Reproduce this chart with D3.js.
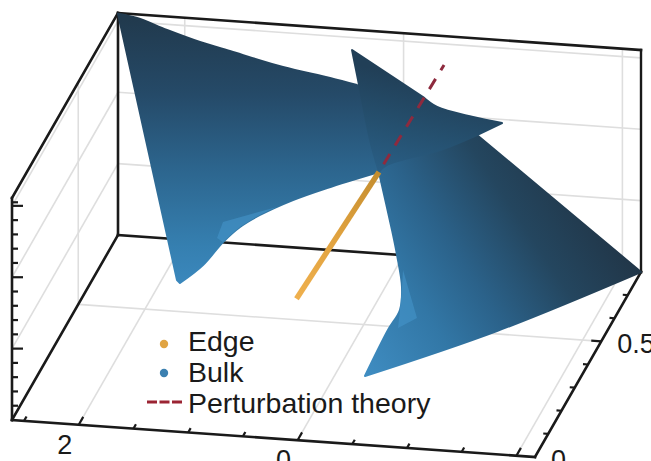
<!DOCTYPE html>
<html>
<head>
<meta charset="utf-8">
<script src="https://cdnjs.cloudflare.com/ajax/libs/d3/7.8.5/d3.min.js"></script>
<style>
html, body { margin: 0; padding: 0; background: #fff; overflow: hidden; }
text { font-family: "Liberation Sans", Arial, sans-serif; fill: #1a1a1a; }
.legend { font-size: 28.5px; }
.xlabel, .ylabel { font-size: 27px; }
</style>
</head>
<body>
<svg id="chart" width="651" height="461"></svg>
<script>
//AXIS DATA
const xDomain = [2.61, -2.17];
const yDomain = [0, 0.8];
const zDomain = [0, 3.11];
const xMajor = [2, 0, -2];
const xMinor = [2.5, 1.5, 1, 0.5, -0.5, -1, -1.5];
const yMajor = [0.5];
const yMinor = [0.1, 0.2, 0.3, 0.4, 0.6, 0.7];
const zMajor = [1, 2, 3];
const zMinor = [0.2, 0.4, 0.6, 0.8, 1.2, 1.4, 1.6, 1.8, 2.2, 2.4, 2.6, 2.8, 3.05];
const xLabels = [{v: 2, t: '2'}, {v: 0, t: '0'}];
const yLabels = [{v: 0.5, t: '0.5'}, {v: 0, t: '0'}];

//BULK SURFACES AS RUNS OF [x, y, z], A CORNER BETWEEN EACH RUN
const lobeLeft = [
    [[2.61, 0.8, 3.10], [2.436, 0.8, 3.059], [2.162, 0.8, 2.921], [1.861, 0.8, 2.785],
     [1.559, 0.8, 2.678], [1.102, 0.8, 2.517], [0.672, 0.8, 2.410], [0.426, 0.8, 2.338]],
    [[0.426, 0.8, 2.338], [0.033, 0.8, 1.891], [-0.211, 0.44, 2.355]],
    [[-0.211, 0.44, 2.355], [0.167, 0.36, 2.349], [0.405, 0.3, 2.349], [0.634, 0.24, 2.309],
     [0.768, 0.2, 2.256], [0.875, 0.16, 2.163], [0.961, 0.08, 2.091], [1.075, 0, 2.086]],
    [[1.075, 0, 2.086], [1.102, 0, 2.125]]
];
const lobeRight = [
    [[-0.211, 0.44, 2.355], [-0.435, 0.64, 2.39]],
    [[-0.435, 0.64, 2.39], [-0.671, 0.8, 1.757]],
    [[-0.671, 0.8, 1.757], [-2.17, 0.8, 0]],
    [[-2.17, 0.8, 0], [-1.338, 0.4, 0.379], [-0.616, 0, 0.966]],
    [[-0.616, 0, 0.966], [-0.778, 0.04, 1.498], [-0.839, 0.08, 1.656], [-0.809, 0.12, 1.845],
     [-0.667, 0.2, 2.019], [-0.524, 0.28, 2.094], [-0.211, 0.44, 2.355]]
];
const lobeTop = [
    [[0.471, 0.8, 2.824], [-0.275, 0.72, 2.505]],
    [[-0.275, 0.72, 2.505], [-0.403, 0.72, 2.379], [-0.683, 0.76, 2.140], [-0.900, 0.8, 1.949]],
    [[-0.900, 0.8, 1.949], [-0.671, 0.8, 1.757]],
    [[-0.671, 0.8, 1.757], [-0.527, 0.64, 2.049], [-0.285, 0.44, 2.461], [-0.211, 0.44, 2.355]],
    [[-0.211, 0.44, 2.355], [0.016, 0.56, 2.390], [0.301, 0.72, 2.541], [0.471, 0.8, 2.824]]
];
const foldLeft = [
    [[0.924, 0.2, 2.309], [0.508, 0.264, 2.357]],
    [[0.508, 0.264, 2.357], [0.634, 0.24, 2.309], [0.768, 0.2, 2.256], [0.875, 0.16, 2.163]],
    [[0.875, 0.16, 2.163], [0.930, 0.16, 2.213]]
];
const foldRight = [
    [[-0.77, 0.16, 1.949], [-0.946, 0.12, 1.426]],
    [[-0.946, 0.12, 1.426], [-0.87, 0.04, 1.536]],
    [[-0.87, 0.04, 1.536], [-0.839, 0.08, 1.656], [-0.809, 0.12, 1.845]]
];

//EDGE STATE AND PERTURBATION THEORY
const edgeLine = [[0.01, 0, 1.98], [-0.211, 0.44, 2.355]];
const theoryLine = [[-0.211, 0.44, 2.355], [-0.37, 0.8, 2.705]];

//LEGEND
const legendItems = ['Edge', 'Bulk', 'Perturbation theory'];

//SCALES FOR THE ORTHOGRAPHIC BOX
const scaleX = d3.scaleLinear().domain(xDomain).range([0, 1]);
const scaleY = d3.scaleLinear().domain(yDomain).range([0, 1]);
const scaleZ = d3.scaleLinear().domain(zDomain).range([0, 1]);

function project(p){
    const u = scaleX(p[0]), v = scaleY(p[1]), w = scaleZ(p[2]);
    return [12 + 523 * u + 106 * v, 420 + 37 * u - 185 * v - 222 * w];
}

const [x0, x1] = xDomain, [y0, y1] = yDomain, [z0, z1] = zDomain;
const svg = d3.select('#chart');
const outline = d3.line().x(d => project(d)[0]).y(d => project(d)[1]);
const smooth = d3.line().x(d => project(d)[0]).y(d => project(d)[1]).curve(d3.curveCatmullRom.alpha(0.5));

//GRADIENTS
const defs = svg.append('defs');
function gradient(id, c, stops){
    const g = defs.append('linearGradient').attr('id', id).attr('gradientUnits', 'userSpaceOnUse')
        .attr('x1', c[0]).attr('y1', c[1]).attr('x2', c[2]).attr('y2', c[3]);
    stops.forEach(s => g.append('stop').attr('offset', s[0]).attr('stop-color', s[1]));
}
gradient('gradLeft', [182, 20, 182, 285], [[0, '#213a4e'], [0.28, '#254a68'], [0.55, '#2c648c'], [0.85, '#357fb0'], [1, '#3b88bd']]);
gradient('gradRight', [360, 370, 600, 210], [[0, '#3f8dc2'], [0.3, '#3277a6'], [0.5, '#2b628a'], [0.75, '#24465f'], [1, '#213648']]);
gradient('gradTop', [400, 75, 376, 175], [[0, '#213f57'], [0.5, '#25506f'], [1, '#2a6088']]);
gradient('gradEdge', [378, 172, 296, 299], [[0, '#c48d2e'], [0.5, '#e0a23f'], [1, '#efb04e']]);

//GRID LINES
function gridLine(a, b){
    svg.append('path').attr('d', outline([a, b])).attr('fill', 'none')
        .attr('stroke', '#dedede').attr('stroke-width', 1.6);
}
xMajor.forEach(x => {
    gridLine([x, y0, z0], [x, y1, z0]);
    gridLine([x, y1, z0], [x, y1, z1]);
});
yMajor.forEach(y => {
    gridLine([x0, y, z0], [x1, y, z0]);
    gridLine([x0, y, z0], [x0, y, z1]);
});
zMajor.forEach(z => {
    gridLine([x0, y0, z], [x0, y1, z]);
    gridLine([x0, y1, z], [x1, y1, z]);
});

//BOX LINES
function boxLine(a, b, w){
    svg.append('path').attr('d', outline([a, b])).attr('fill', 'none')
        .attr('stroke', '#1a1a1a').attr('stroke-width', w).attr('stroke-linecap', 'square');
}
boxLine([x0, y0, z0], [x1, y0, z0], 2.6);
boxLine([x1, y0, z0], [x1, y1, z0], 2.6);
boxLine([x0, y0, z0], [x0, y1, z0], 2.6);
boxLine([x0, y1, z0], [x1, y1, z0], 2.6);
boxLine([x0, y0, z0], [x0, y0, z1], 2.6);
boxLine([x0, y0, z1], [x0, y1, z1], 2.6);
boxLine([x0, y1, z1], [x1, y1, z1], 2.6);
boxLine([x0, y1, z0], [x0, y1, z1], 2.6);
boxLine([x1, y1, z0], [x1, y1, z1], 2.4);

//TICKS
function tick(a, dx, dy, len){
    const p = project(a);
    svg.append('line').attr('x1', p[0]).attr('y1', p[1])
        .attr('x2', p[0] + dx * len).attr('y2', p[1] + dy * len)
        .attr('stroke', '#1a1a1a').attr('stroke-width', 2.2);
}
xMajor.forEach(x => tick([x, y0, z0], 0.5, -0.87, 9));
xMinor.forEach(x => tick([x, y0, z0], 0.5, -0.87, 5));
yMajor.forEach(y => tick([x1, y, z0], -1, -0.07, 10));
yMinor.forEach(y => tick([x1, y, z0], -1, -0.07, 5));
zMajor.forEach(z => tick([x0, y0, z], 1, 0, 11));
zMinor.forEach(z => tick([x0, y0, z], 1, 0, 6));

//SURFACES
function surfacePath(runs){
    return runs.map((run, i) => i == 0 ? smooth(run) : smooth(run).replace('M', 'L')).join('') + 'Z';
}
function surface(runs, fill, opacity){
    svg.append('path').attr('d', surfacePath(runs)).attr('fill', fill).attr('opacity', opacity)
        .attr('stroke', fill).attr('stroke-width', opacity < 1 ? 0 : 2).attr('stroke-linejoin', 'round');
}
surface(lobeLeft, 'url(#gradLeft)', 1);
surface(lobeRight, 'url(#gradRight)', 1);
surface(lobeTop, 'url(#gradTop)', 1);
surface(foldLeft, '#4594ca', 0.6);
surface(foldRight, '#4594ca', 0.6);

//EDGE AND THEORY LINES
svg.append('path').attr('d', outline(edgeLine)).attr('fill', 'none')
    .attr('stroke', 'url(#gradEdge)').attr('stroke-width', 5.5);
svg.append('path').attr('d', outline(theoryLine)).attr('fill', 'none')
    .attr('stroke', '#8e2a3e').attr('stroke-width', 3)
    .attr('stroke-dasharray', '12 10').attr('stroke-dashoffset', 13);

//TICK LABELS
svg.selectAll('.xlabel').data(xLabels).enter().append('text')
    .attr('class', 'xlabel').attr('text-anchor', 'middle')
    .attr('x', d => project([d.v, y0, z0])[0] - 14)
    .attr('y', d => project([d.v, y0, z0])[1] + 29)
    .text(d => d.t);
svg.selectAll('.ylabel').data(yLabels).enter().append('text')
    .attr('class', 'ylabel')
    .attr('x', d => project([x1, d.v, z0])[0] + 16)
    .attr('y', d => project([x1, d.v, z0])[1] + 12)
    .text(d => d.t);

//LEGEND
const legendY = d3.scalePoint().domain(legendItems).range([351, 413]);
svg.selectAll('.legend').data(legendItems).enter().append('text')
    .attr('class', 'legend').attr('x', 188).attr('y', d => legendY(d)).text(d => d);
svg.append('circle').attr('cx', 164).attr('cy', legendY('Edge') - 7).attr('r', 4.2).attr('fill', '#e0a443');
svg.append('circle').attr('cx', 164).attr('cy', legendY('Bulk') - 9).attr('r', 4.2).attr('fill', '#3b80b0');
svg.append('line').attr('x1', 147).attr('x2', 182)
    .attr('y1', legendY('Perturbation theory') - 11).attr('y2', legendY('Perturbation theory') - 11)
    .attr('stroke', '#9b2433').attr('stroke-width', 3).attr('stroke-dasharray', '10 2.5');
</script>
</body>
</html>
